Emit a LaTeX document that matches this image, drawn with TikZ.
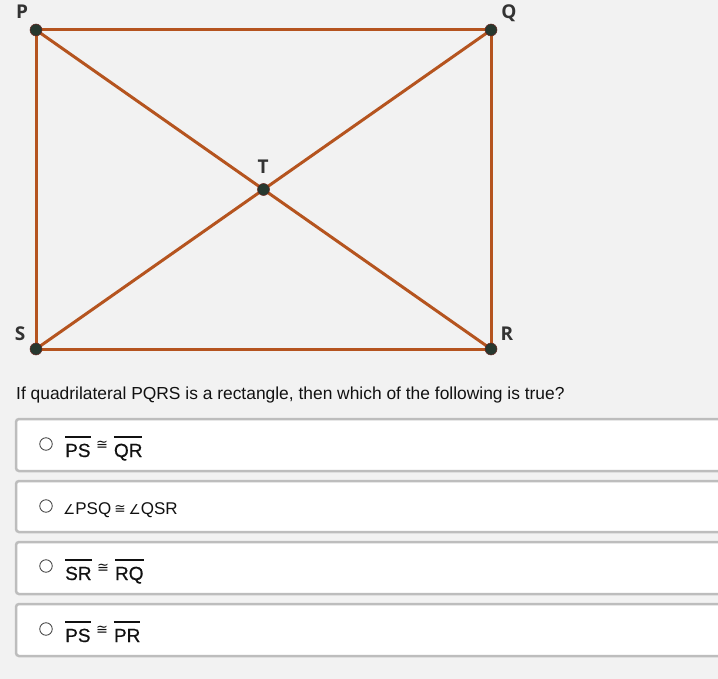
\documentclass[tikz,border=0pt]{standalone}
\usepackage{fontspec}
\setmainfont{Liberation Sans}
\newfontfamily\lblfont{Open Sans}
\newfontfamily\optfont[FakeBold=0.5]{Liberation Sans}
\newfontfamily\symfont{DejaVu Sans}
\definecolor{bg}{HTML}{F2F2F2}
\definecolor{edge}{HTML}{B5541F}
\definecolor{dotc}{HTML}{27382F}
\definecolor{boxline}{HTML}{BDBDBD}
\definecolor{txt}{HTML}{111111}
\newcommand{\seg}[1]{\leavevmode\vbox{\hrule height 1.6pt\kern 6pt\hbox{#1}}}
\newcommand{\mycong}{\hspace{5.5pt}{\symfont\raisebox{7.5pt}{\scalebox{0.75}{≅}}}\hspace{6pt}}
\newcommand{\mycongb}{\hspace{3pt}{\symfont\raisebox{0.5pt}{\scalebox{0.8}{≅}}}\hspace{3pt}}
\newcommand{\myang}{{\symfont\scalebox{0.8}{∠}}}
\begin{document}
\begin{tikzpicture}[x=1pt,y=-1pt,
  sideline/.style={draw=edge,line width=3pt},
  vtx/.style={circle,fill=dotc,draw=dotc!70!red,line width=0.5pt,inner sep=0pt,minimum size=12pt},
  vlabel/.style={font=\lblfont\bfseries\fontsize{19}{19}\selectfont,text=black!80,inner sep=0pt},
  optbox/.style={draw=boxline,line width=2.5pt,fill=white,rounded corners=3pt},
  radio/.style={circle,draw=black!75,line width=0.8pt,fill=white,inner sep=0pt,minimum size=12.5pt},
  opt/.style={anchor=base west,inner sep=0pt,text=txt}]
\fill[bg] (0,0) rectangle (718,679);
\useasboundingbox (0,0) rectangle (718,679);
\coordinate (P) at (36,30);
\coordinate (Q) at (491,30);
\coordinate (R) at (491,349);
\coordinate (S) at (36,349);
\coordinate (T) at (263.5,189.5);
\draw[sideline] (P) -- (Q) -- (R) -- (S) -- cycle;
\draw[sideline] (P) -- (R);
\draw[sideline] (Q) -- (S);
\node[vtx] (p) at (P) {};
\node[vtx] (q) at (Q) {};
\node[vtx] (r) at (R) {};
\node[vtx] (s) at (S) {};
\node[vtx] (t) at (T) {};
\node[vlabel] (lp) at (22,12) {P};
\node[vlabel] (lq) at (509,13) {Q};
\node[vlabel] (lr) at (507,334) {R};
\node[vlabel] (ls) at (20,334) {S};
\node[vlabel] (lt) at (263,167) {T};
\node[anchor=base west,inner sep=0pt,text=txt,font=\fontsize{17.4}{17.4}\selectfont] (q1) at (16,399) {If quadrilateral PQRS is a rectangle, then which of the following is true?};
\draw[optbox] (16,419) rectangle (730,471);
\draw[optbox] (16,481) rectangle (730,532);
\draw[optbox] (16,542) rectangle (730,594);
\draw[optbox] (16,604) rectangle (730,656);
\node[radio] (c1) at (46,444) {};
\node[radio] (c2) at (46,506) {};
\node[radio] (c3) at (46,566) {};
\node[radio] (c4) at (46,629) {};
\node[opt,font=\optfont\fontsize{19}{19}\selectfont] (o1) at (65,457) {\seg{PS}\mycong\seg{QR}};
\node[opt,font=\fontsize{17}{17}\selectfont] (o2) at (63,514) {\myang PSQ\mycongb\myang QSR};
\node[opt,font=\optfont\fontsize{19}{19}\selectfont] (o3) at (65,580) {\seg{SR}\mycong\seg{RQ}};
\node[opt,font=\optfont\fontsize{19}{19}\selectfont] (o4) at (65,642) {\seg{PS}\mycong\seg{PR}};
\end{tikzpicture}
\end{document}
